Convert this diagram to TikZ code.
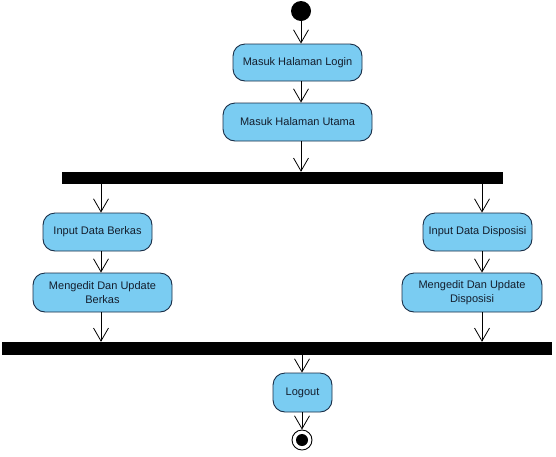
\documentclass[tikz,border=0pt]{standalone}
\usepackage{fontspec}
\setmainfont{Liberation Sans}
\usetikzlibrary{arrows.meta,calc}
\definecolor{actfill}{RGB}{122,204,242}
\definecolor{actdraw}{RGB}{25,45,70}
\definecolor{acttext}{RGB}{20,30,45}
\begin{document}
\begin{tikzpicture}[x=1pt,y=-1pt,
  act/.style={draw=actdraw,fill=actfill,line width=0.9pt,rounded corners=12pt,
    align=center,inner sep=2pt,text=acttext,font=\fontsize{11}{13.5}\selectfont},
  bar/.style={fill=black,draw=none,inner sep=0pt},
  arr/.style={draw=black,line width=0.8pt,-{Straight Barb[length=13pt,width=15pt,line width=0.8pt]}}]
\useasboundingbox (0,0) rectangle (556,456);
\coordinate (cx) at (301,0);
\coordinate (lx) at (101,0);
\coordinate (rx) at (482,0);
\coordinate (fx) at (302,0);
\node[circle,fill=black,minimum size=20pt,inner sep=0pt] (init) at (301,11) {};
\node[act,minimum width=129pt,minimum height=37pt] (login) at (297.5,62.5) {Masuk Halaman Login};
\node[act,minimum width=149pt,minimum height=38pt] (utama) at (297.5,122) {Masuk Halaman Utama};
\node[bar,minimum width=441pt,minimum height=12pt] (fork) at (282.5,178) {};
\node[act,minimum width=109pt,minimum height=38pt] (inb) at (97.5,232) {Input Data Berkas};
\node[act,minimum width=139pt,minimum height=39pt] (edb) at (102.5,292.5) {Mengedit Dan Update\\Berkas};
\node[act,minimum width=109pt,minimum height=38pt] (ind) at (477.5,232) {Input Data Disposisi};
\node[act,minimum width=140pt,minimum height=39pt] (edd) at (472,292.5) {Mengedit Dan Update\\Disposisi};
\node[bar,minimum width=550pt,minimum height=13pt] (join) at (277,348.5) {};
\node[act,minimum width=59pt,minimum height=39pt] (logout) at (302.5,392.5) {Logout};
\node[circle,draw=black,fill=white,line width=0.9pt,minimum size=20pt,inner sep=0pt] (final) at (302,440) {};
\node[circle,fill=black,minimum size=12pt,inner sep=0pt] (finalin) at (final) {};
\draw[arr] (init.south) -- (login.north -| cx);
\draw[arr] (login.south -| cx) -- (utama.north -| cx);
\draw[arr] (utama.south -| cx) -- (fork.north -| cx);
\draw[arr] (fork.south -| lx) -- (inb.north -| lx);
\draw[arr] (inb.south -| lx) -- (edb.north -| lx);
\draw[arr] (edb.south -| lx) -- (join.north -| lx);
\draw[arr] (fork.south -| rx) -- (ind.north -| rx);
\draw[arr] (ind.south -| rx) -- (edd.north -| rx);
\draw[arr] (edd.south -| rx) -- (join.north -| rx);
\draw[arr] (join.south -| fx) -- (logout.north -| fx);
\draw[arr] (logout.south -| fx) -- (final.north);
\end{tikzpicture}
\end{document}
